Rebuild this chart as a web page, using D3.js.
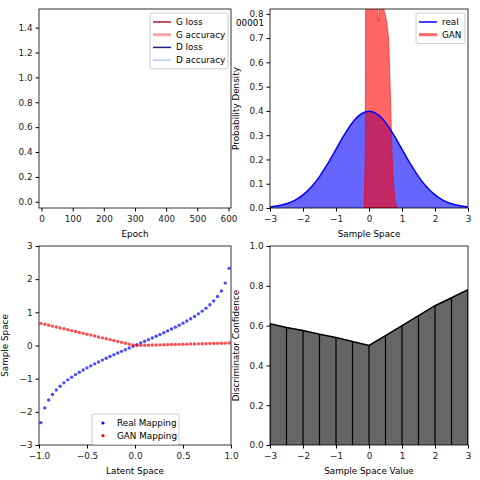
<!DOCTYPE html>
<html><head><meta charset="utf-8">
<script src="https://cdn.jsdelivr.net/npm/d3@7"></script>
<style>body{margin:0;background:#fff}text{font-family:"DejaVu Sans";}</style>
</head><body><div id="chart"></div>
<script>
// data
const realX = [-3,-2.75,-2.5,-2.25,-2,-1.75,-1.5,-1.25,-1,-0.75,-0.5,-0.25,0,0.25,0.5,0.75,1,1.25,1.5,1.75,2,2.25,2.5,2.75,3];
const realDensity = [0.0044,0.0091,0.0175,0.0317,0.054,0.0863,0.1295,0.1826,0.242,0.3011,0.3521,0.3867,0.3989,0.3867,0.3521,0.3011,0.242,0.1826,0.1295,0.0863,0.054,0.0317,0.0175,0.0091,0.0044];
const ganX = [-0.15,-0.11,-0.1,-0.08,0,0.1,0.2,0.25,0.29,0.33,0.4,0.45,0.5,0.55,0.6,0.64,0.68,0.72,0.77,0.85];
const ganDensity = [0,0.3,0.9,1.3,1.5,1.4,1.1,0.86,0.77,0.86,0.88,0.82,0.79,0.75,0.67,0.5,0.3,0.15,0.06,0];
const latentX = d3.range(50).map(i => -0.98 + 0.04 * i);
const realMap = [-2.326,-1.881,-1.645,-1.476,-1.341,-1.227,-1.126,-1.036,-0.954,-0.878,-0.806,-0.739,-0.674,-0.613,-0.553,-0.496,-0.44,-0.385,-0.332,-0.279,-0.228,-0.176,-0.126,-0.075,-0.025,
  0.025,0.075,0.126,0.176,0.228,0.279,0.332,0.385,0.44,0.496,0.553,0.613,0.674,0.739,0.806,0.878,0.954,1.036,1.126,1.227,1.341,1.476,1.645,1.881,2.326];
const ganMap = [0.666,0.639,0.612,0.585,0.558,0.53,0.503,0.476,0.449,0.422,0.394,0.367,0.34,0.313,0.286,0.258,0.231,0.204,0.177,0.15,0.122,0.095,0.068,0.041,0.014,
  0.002,0.005,0.008,0.011,0.014,0.017,0.02,0.023,0.026,0.029,0.032,0.035,0.038,0.041,0.044,0.047,0.05,0.053,0.056,0.059,0.062,0.065,0.068,0.071,0.075];
const decX = [-3,-2.5,-2,-1.5,-1,-0.5,0,0.5,1,1.5,2,2.5,3];
const decY = [0.61,0.59,0.575,0.557,0.54,0.52,0.5,0.55,0.6,0.65,0.7,0.74,0.78];
const lossLegend = [["G loss","#b2182b",1.5],["G accuracy","#f4a6a6",3],["D loss","#1a237e",1.5],["D accuracy","#90b4e8",1]];

const FS = 8.8;
const svg = d3.select("#chart").append("svg").attr("width",480).attr("height",480);

function panel(x0,x1,y0,y1,xd,yd,xt,yt,xfmt,yfmt,xlab,ylab){
  const x = d3.scaleLinear().domain(xd).range([x0,x1]);
  const y = d3.scaleLinear().domain(yd).range([y1,y0]);
  const g = svg.append("g");
  const id = "c"+Math.round(x0)+"_"+Math.round(y0);
  svg.append("clipPath").attr("id",id).append("rect").attr("x",x0).attr("y",y0).attr("width",x1-x0).attr("height",y1-y0);
  const plot = g.append("g").attr("clip-path",`url(#${id})`);
  const ax = g.append("g").attr("transform",`translate(0,${y1})`).call(d3.axisBottom(x).tickValues(xt).tickFormat(xfmt).tickSize(3.5).tickSizeOuter(0));
  const ay = g.append("g").attr("transform",`translate(${x0},0)`).call(d3.axisLeft(y).tickValues(yt).tickFormat(yfmt).tickSize(3.5).tickSizeOuter(0));
  [ax,ay].forEach(a=>{a.select(".domain").remove();a.selectAll("text").attr("font-size",FS).attr("fill","#222").attr("font-family","DejaVu Sans");});
  ax.selectAll("text").attr("dy","0.9em");
  g.append("rect").attr("x",x0).attr("y",y0).attr("width",x1-x0).attr("height",y1-y0).attr("fill","none").attr("stroke","#000").attr("stroke-width",0.8);
  g.append("text").attr("x",(x0+x1)/2).attr("y",y1+29).attr("text-anchor","middle").attr("font-size",FS).text(xlab);
  g.append("text").attr("transform",`translate(${x0-31},${(y0+y1)/2}) rotate(-90)`).attr("text-anchor","middle").attr("font-size",FS).text(ylab);
  return {x,y,plot,g};
}
const minus = d => d3.format(".1f")(d).replace("-","\u2212");
const minusI = d => String(d).replace("-","\u2212");

function legend(x,y,w,items){
  const g = svg.append("g").attr("transform",`translate(${x},${y})`);
  g.append("rect").attr("width",w).attr("height",items.length*12.7+5).attr("rx",2).attr("fill","#fff").attr("fill-opacity",0.8).attr("stroke","#ccc");
  items.forEach((it,i)=>{
    const yy = 9+i*12.7;
    if(it.dot) g.append("circle").attr("cx",11).attr("cy",yy).attr("r",1.6).attr("fill",it.color);
    else g.append("line").attr("x1",3).attr("x2",21).attr("y1",yy).attr("y2",yy).attr("stroke",it.color).attr("stroke-width",it.w).attr("stroke-opacity",it.op||1);
    g.append("text").attr("x",it.dot?25:26).attr("y",yy+3).attr("font-size",FS).text(it.label);
  });
}

// top-left: training history (empty)
panel(39,231,9,208,[-8,608],[-0.05,1.55],d3.range(0,601,100),d3.range(0,1.41,0.2),d=>d,d3.format(".1f"),"Epoch","");
legend(150,13,78,lossLegend.map(d=>({label:d[0],color:d[1],w:d[2]})));

// top-right: densities
const p2 = panel(270,468,9,208,[-3,3],[0,0.82],d3.range(-3,3.1,1),d3.range(0,0.81,0.1),minusI,d3.format(".1f"),"Sample Space","Probability Density");
const area2 = (xs) => d3.area().x((d,i)=>p2.x(xs[i])).y0(p2.y(0)).y1(d=>p2.y(d)).curve(d3.curveMonotoneX);
p2.plot.append("path").datum(realDensity).attr("d",area2(realX)).attr("fill","#0000ff").attr("fill-opacity",0.6);
p2.plot.append("path").datum(ganDensity).attr("d",area2(ganX)).attr("fill","#ff0000").attr("fill-opacity",0.6).attr("stroke","#ff0000").attr("stroke-opacity",0.6);
p2.plot.append("path").datum(realDensity).attr("d",d3.line().x((d,i)=>p2.x(realX[i])).y(d=>p2.y(d)).curve(d3.curveMonotoneX)).attr("fill","none").attr("stroke","#0000ff").attr("stroke-width",1.5);
svg.append("text").attr("x",236).attr("y",26).attr("font-size",FS).text("00001");
legend(416,13,49,[{label:"real",color:"#0000ff",w:1.5},{label:"GAN",color:"#ff0000",w:3,op:0.6}]);

// bottom-left: mappings
const p3 = panel(39,231,246,445,[-1,1],[-3,3],d3.range(-1,1.01,0.5),d3.range(-3,3.1,1),minus,minusI,"Latent Space","Sample Space");
p3.plot.selectAll(".rm").data(realMap).join("circle").attr("cx",(d,i)=>p3.x(latentX[i])).attr("cy",d=>p3.y(d)).attr("r",1.7).attr("fill","#0000ff").attr("fill-opacity",0.7);
p3.plot.selectAll(".gm").data(ganMap).join("circle").attr("cx",(d,i)=>p3.x(latentX[i])).attr("cy",d=>p3.y(d)).attr("r",1.7).attr("fill","#ff0000").attr("fill-opacity",0.7);
legend(92,414,87,[{label:"Real Mapping",color:"#0000ff",dot:true},{label:"GAN Mapping",color:"#ff0000",dot:true}]);

// bottom-right: discriminator decision
const p4 = panel(270,468,246,445,[-3,3],[0,1],d3.range(-3,3.1,1),d3.range(0,1.01,0.2),minusI,d3.format(".1f"),"Sample Space Value","Discriminator Confidence");
p4.plot.append("path").datum(decY).attr("d",d3.area().x((d,i)=>p4.x(decX[i])).y0(p4.y(0)).y1(d=>p4.y(d))).attr("fill","#666");
p4.plot.selectAll(".bar").data(decY).join("line").attr("x1",(d,i)=>p4.x(decX[i])).attr("x2",(d,i)=>p4.x(decX[i])).attr("y1",p4.y(0)).attr("y2",d=>p4.y(d)).attr("stroke","#000").attr("stroke-width",1.2);
p4.plot.append("path").datum(decY).attr("d",d3.line().x((d,i)=>p4.x(decX[i])).y(d=>p4.y(d))).attr("fill","none").attr("stroke","#000").attr("stroke-width",1.5);
</script></body></html>
